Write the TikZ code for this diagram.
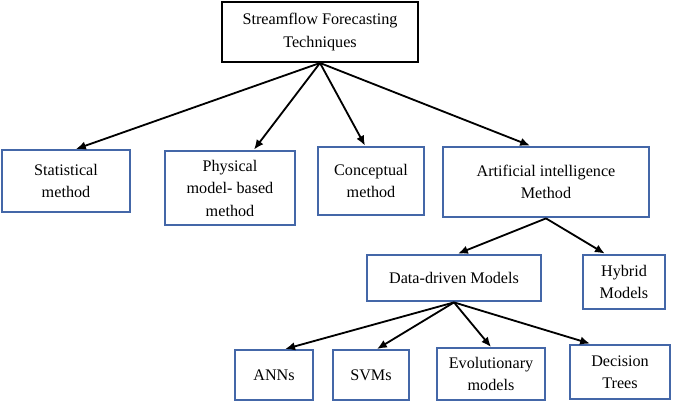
\documentclass[tikz,border=0pt]{standalone}
\usepackage{fontspec}
\setmainfont{Liberation Serif}
\usetikzlibrary{arrows.meta}
\definecolor{boxblue}{HTML}{4467A8}
\begin{document}
\begin{tikzpicture}[x=0.025cm,y=-0.025cm,
  box/.style={draw=boxblue, line width=1.4pt, align=center, inner sep=0pt,
    font=\fontsize{11.5}{16}\selectfont},
  arr/.style={-{Latex[length=7pt,width=6pt]}, line width=1.3pt}]
\useasboundingbox (0,0) rectangle (685,405);
\node[box, draw=black, minimum width=4.9cm, minimum height=1.5cm] (tech) at (320,32) {Streamflow Forecasting\\Techniques};

\node[box, minimum width=3.2cm, minimum height=1.55cm] (stat) at (66,181) {Statistical\\method};
\node[box, minimum width=3.25cm, minimum height=1.87cm] (phys) at (230,188) {Physical\\model- based\\method};
\node[box, minimum width=2.67cm, minimum height=1.72cm] (conc) at (371,181) {Conceptual\\method};
\node[box, minimum width=5.17cm, minimum height=1.77cm] (ai) at (546,182) {Artificial intelligence\\Method};

\node[box, minimum width=4.37cm, minimum height=1.17cm] (data) at (454,278) {Data-driven Models};
\node[box, minimum width=2.05cm, minimum height=1.37cm] (hyb) at (624,282) {Hybrid\\Models};

\node[box, minimum width=1.95cm, minimum height=1.25cm] (ann) at (274,375) {ANNs};
\node[box, minimum width=1.92cm, minimum height=1.25cm] (svm) at (371,375) {SVMs};
\node[box, minimum width=2.7cm, minimum height=1.3cm] (evo) at (491,374) {Evolutionary\\models};
\node[box, minimum width=2.5cm, minimum height=1.37cm] (dec) at (620,372) {Decision\\Trees};

\draw[arr] (tech.south) -- ([xshift=0.25cm]stat.north);
\draw[arr] (tech.south) -- ([xshift=0.6cm]phys.north);
\draw[arr] (tech.south) -- ([xshift=-0.15cm]conc.north);
\draw[arr] (tech.south) -- ([xshift=-0.4cm]ai.north);
\draw[arr] (ai.south) -- ([xshift=0.1cm]data.north);
\draw[arr] (ai.south) -- ([xshift=-0.48cm]hyb.north);
\draw[arr] (data.south) -- ([xshift=0.28cm]ann.north);
\draw[arr] (data.south) -- ([xshift=0.15cm]svm.north);
\draw[arr] (data.south) -- (evo.north);
\draw[arr] (data.south) -- ([xshift=-0.75cm]dec.north);
\end{tikzpicture}
\end{document}
